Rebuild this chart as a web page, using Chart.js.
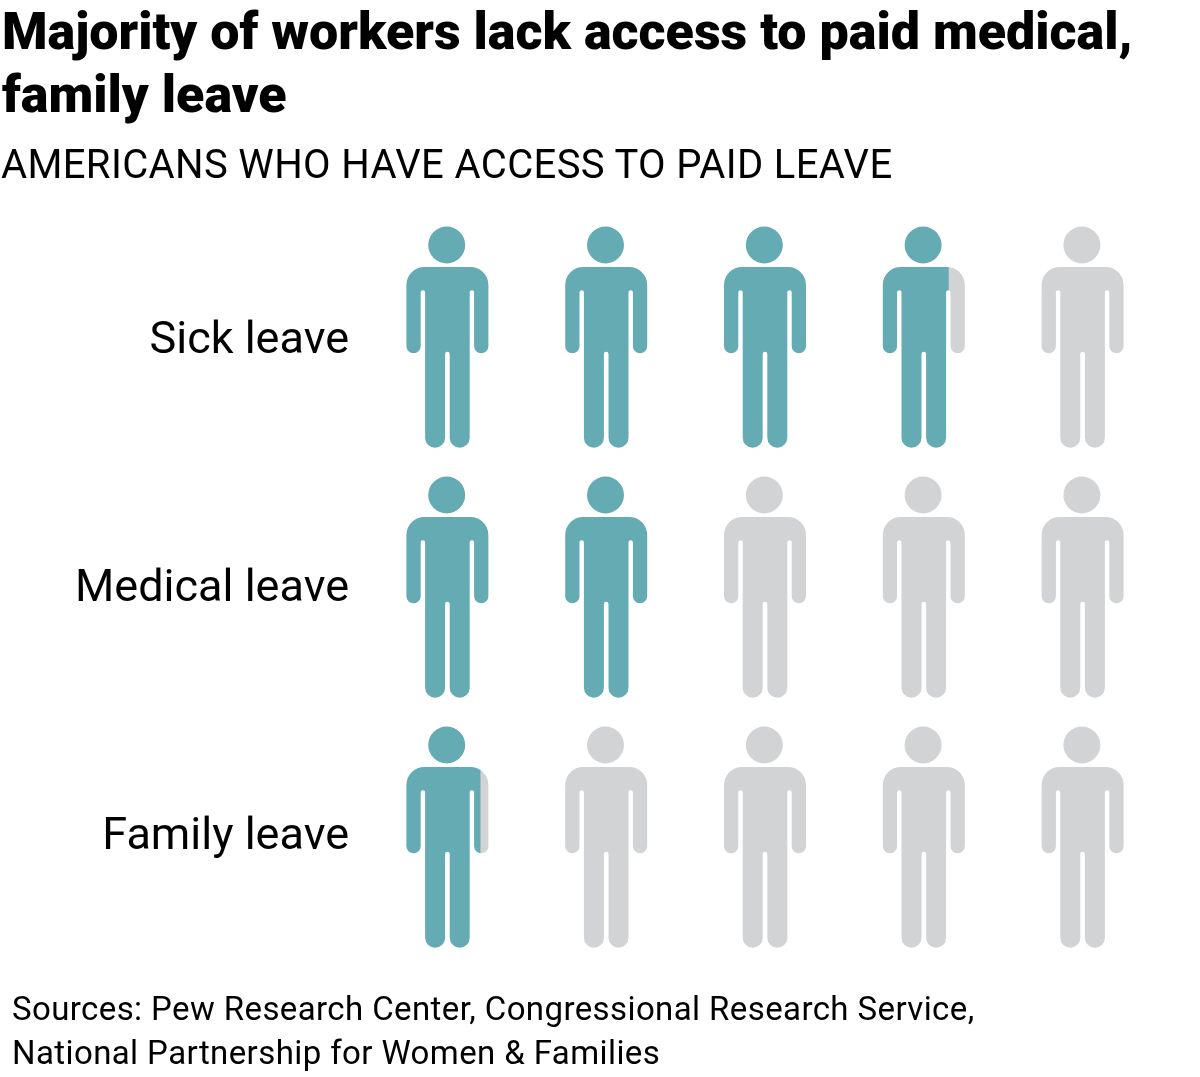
<!DOCTYPE html>
<html>
<head>
<meta charset="utf-8">
<script src="https://cdn.jsdelivr.net/npm/chart.js@4"></script>
<style>
  html, body { margin: 0; background: #fff; }
  #wrap { position: relative; width: 1200px; height: 1077px; overflow: hidden; }
  #leave-chart { position: absolute; left: 0; top: 0; }
  .line { position: absolute; white-space: nowrap; color: #000; }
  .title { left: 2px; font: 900 52px/60px Roboto, sans-serif; }
  .sub { left: 1px; top: 141px; font: 40px/48px Roboto, sans-serif; letter-spacing: 0.37px; }
  .src { left: 12px; font: 33px/40px Roboto, sans-serif; letter-spacing: 0.4px; }
</style>
</head>
<body>
<div id="wrap">
  <canvas id="leave-chart" width="1200" height="1077"></canvas>
  <div class="line title" style="top:2px">Majority of workers lack access to paid medical,</div>
  <div class="line title" style="top:65px">family leave</div>
  <div class="line sub">AMERICANS WHO HAVE ACCESS TO PAID LEAVE</div>
  <div class="line src" style="top:989px">Sources: Pew Research Center, Congressional Research Service,</div>
  <div class="line src" style="top:1033px">National Partnership for Women &amp; Families</div>
</div>
<script>
'use strict';

const categories = ['Sick leave', 'Medical leave', 'Family leave'];
const accessPct = [76, 40, 18];

const PCT_PER_FIGURE = 20;
const FIGURES = 5;
const TEAL = '#65abb3';
const GREY = '#d1d3d4';

// Share of one column taken up by the figure; the rest is the gap between figures.
const FIGURE_SHARE = 82 / 159;

// One person, drawn around (0, 0) at the middle of a row and column.
const FIGURE_PATH =
  'M-23 -70 H23 A18 18 0 0 1 41 -52 V9.15 A7.15 7.15 0 0 1 26.7 9.15 V-44.65 ' +
  'A2.2 2.2 0 0 0 22.3 -44.65 V100.7 A10 10 0 0 1 2.3 100.7 V17 A2.3 2.3 0 0 0 -2.3 17 ' +
  'V100.7 A10 10 0 0 1 -22.3 100.7 V-44.65 A2.2 2.2 0 0 0 -26.7 -44.65 V9.15 ' +
  'A7.15 7.15 0 0 1 -41 9.15 V-52 A18 18 0 0 1 -23 -70 Z ' +
  'M-19.2 -92 A18.5 18.5 0 1 0 17.8 -92 A18.5 18.5 0 1 0 -19.2 -92 Z';

// Column position of a share: the fraction only runs across the figure, not the gap.
function toColumns(pct) {
  const people = pct / PCT_PER_FIGURE;
  const whole = Math.floor(people);
  const part = people - whole;
  if (part === 0) return whole;
  return whole + (1 - FIGURE_SHARE) / 2 + part * FIGURE_SHARE;
}

const filled = accessPct.map(toColumns);
const unfilled = filled.map(v => FIGURES - v);

// The stacked bars only show through the row of figures.
const figureClip = {
  id: 'figureClip',
  beforeDatasetsDraw(chart) {
    const { ctx, scales } = chart;
    const shape = new Path2D(FIGURE_PATH);
    const all = new Path2D();
    categories.forEach((_, row) => {
      for (let col = 0; col < FIGURES; col++) {
        const dx = scales.x.getPixelForValue(col + 0.5);
        const dy = scales.y.getPixelForValue(row);
        all.addPath(shape, new DOMMatrix([1, 0, 0, 1, dx, dy]));
      }
    });
    ctx.save();
    ctx.clip(all);
  },
  afterDatasetsDraw(chart) {
    chart.ctx.restore();
  }
};

new Chart(document.getElementById('leave-chart'), {
  type: 'bar',
  plugins: [figureClip],
  data: {
    labels: categories,
    datasets: [
      { label: 'Have access', data: filled, backgroundColor: TEAL },
      { label: 'No access', data: unfilled, backgroundColor: GREY }
    ]
  },
  options: {
    indexAxis: 'y',
    responsive: false,
    animation: false,
    barPercentage: 1,
    categoryPercentage: 1,
    layout: { padding: { top: 212, bottom: 115, right: 38 } },
    plugins: { legend: { display: false }, tooltip: { enabled: false } },
    scales: {
      x: { stacked: true, min: 0, max: FIGURES, display: false },
      y: { stacked: true, display: false },
      // Row names sit on their own axis, spaced a little tighter than the rows.
      names: {
        type: 'linear',
        position: 'left',
        reverse: true,
        offset: false,
        bounds: 'data',
        min: -0.524,
        max: 2.5,
        grid: { display: false, drawTicks: false },
        border: { display: false },
        afterBuildTicks(scale) { scale.ticks = categories.map((_, i) => ({ value: i })); },
        ticks: {
          color: '#000',
          padding: 19,
          font: { family: 'Roboto', size: 45 },
          callback: v => categories[v]
        },
        afterFit(scale) { scale.width = 368; }
      }
    }
  }
});
</script>
</body>
</html>
